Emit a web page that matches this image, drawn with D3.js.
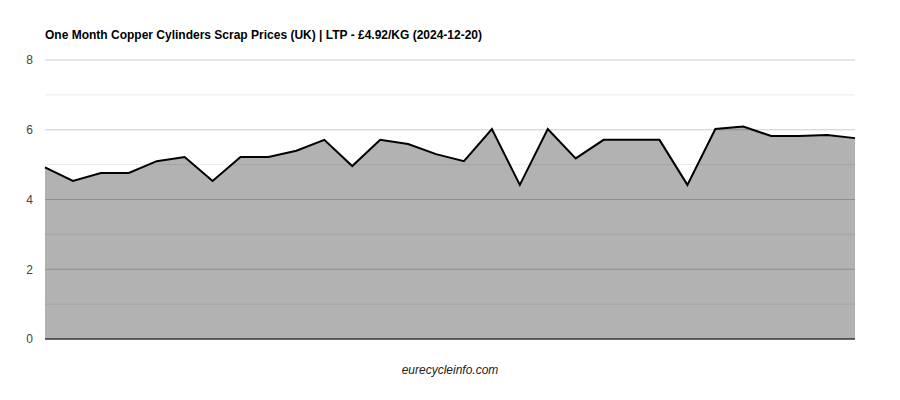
<!DOCTYPE html>
<html lang="en">
<head>
<meta charset="utf-8">
<title>Copper Cylinders Scrap Prices</title>
<script src="https://d3js.org/d3.v7.min.js"></script>
<style>
  body { margin: 0; background: #fff; }
  text { font-family: Arial, "Liberation Sans", sans-serif; }
</style>
</head>
<body>
<script>
const width = 900, height = 400;
const margin = {top: 60, right: 45, bottom: 61, left: 45};

// one month of daily prices (GBP/kg), in chart order
const days = d3.range(1, 31);
const prices = [4.92, 4.53, 4.76, 4.76, 5.10, 5.22, 4.53, 5.22, 5.22, 5.40,
                5.71, 4.96, 5.71, 5.59, 5.30, 5.10, 6.02, 4.42, 6.02, 5.18,
                5.71, 5.71, 5.71, 4.42, 6.02, 6.09, 5.82, 5.82, 5.85, 5.76];
const majorTicks = [0, 2, 4, 6, 8];
const minorTicks = [1, 3, 5, 7];
const title = "One Month Copper Cylinders Scrap Prices (UK) | LTP - £4.92/KG (2024-12-20)";
const source = "eurecycleinfo.com";

const data = days.map((d, i) => ({day: d, price: prices[i]}));

const x = d3.scaleLinear()
    .domain(d3.extent(days))
    .range([margin.left, width - margin.right]);
const y = d3.scaleLinear()
    .domain([0, 8])
    .range([height - margin.bottom, margin.top]);

const svg = d3.select("body").append("svg")
    .attr("width", width)
    .attr("height", height);

// gridlines
svg.append("g").selectAll("line")
    .data(minorTicks).join("line")
    .attr("x1", margin.left).attr("x2", width - margin.right)
    .attr("y1", d => y(d)).attr("y2", d => y(d))
    .attr("stroke", "#ebebeb");
svg.append("g").selectAll("line")
    .data(majorTicks.filter(d => d !== 0)).join("line")
    .attr("x1", margin.left).attr("x2", width - margin.right)
    .attr("y1", d => y(d)).attr("y2", d => y(d))
    .attr("stroke", "#cccccc");

// area + line
svg.append("path")
    .datum(data)
    .attr("fill", "#000")
    .attr("fill-opacity", 0.3)
    .attr("d", d3.area().x(d => x(d.day)).y0(y(0)).y1(d => y(d.price)));

svg.append("path")
    .datum(data)
    .attr("fill", "none")
    .attr("stroke", "#000")
    .attr("stroke-width", 2)
    .attr("stroke-linejoin", "miter")
    .attr("d", d3.line().x(d => x(d.day)).y(d => y(d.price)));

// baseline
svg.append("line")
    .attr("x1", margin.left).attr("x2", width - margin.right)
    .attr("y1", y(0)).attr("y2", y(0))
    .attr("stroke", "#333").attr("stroke-width", 1.5);

// y axis labels
const leftAxis = d3.axisLeft(y).tickValues(majorTicks).tickSize(0).tickPadding(12);
const gy = svg.append("g")
    .attr("transform", "translate(" + margin.left + ",0)")
    .call(leftAxis);
gy.select(".domain").remove();
gy.selectAll("text")
    .attr("font-family", "Arial, 'Liberation Sans', sans-serif")
    .attr("font-size", 12)
    .attr("fill", "#444");

// title
svg.append("text")
    .attr("x", margin.left)
    .attr("y", 39)
    .attr("font-size", 12)
    .attr("font-weight", "bold")
    .attr("fill", "#000")
    .text(title);

// footer
svg.append("text")
    .attr("x", (margin.left + width - margin.right) / 2)
    .attr("y", 374)
    .attr("text-anchor", "middle")
    .attr("font-size", 12)
    .attr("font-style", "italic")
    .attr("fill", "#222")
    .text(source);
</script>
</body>
</html>
